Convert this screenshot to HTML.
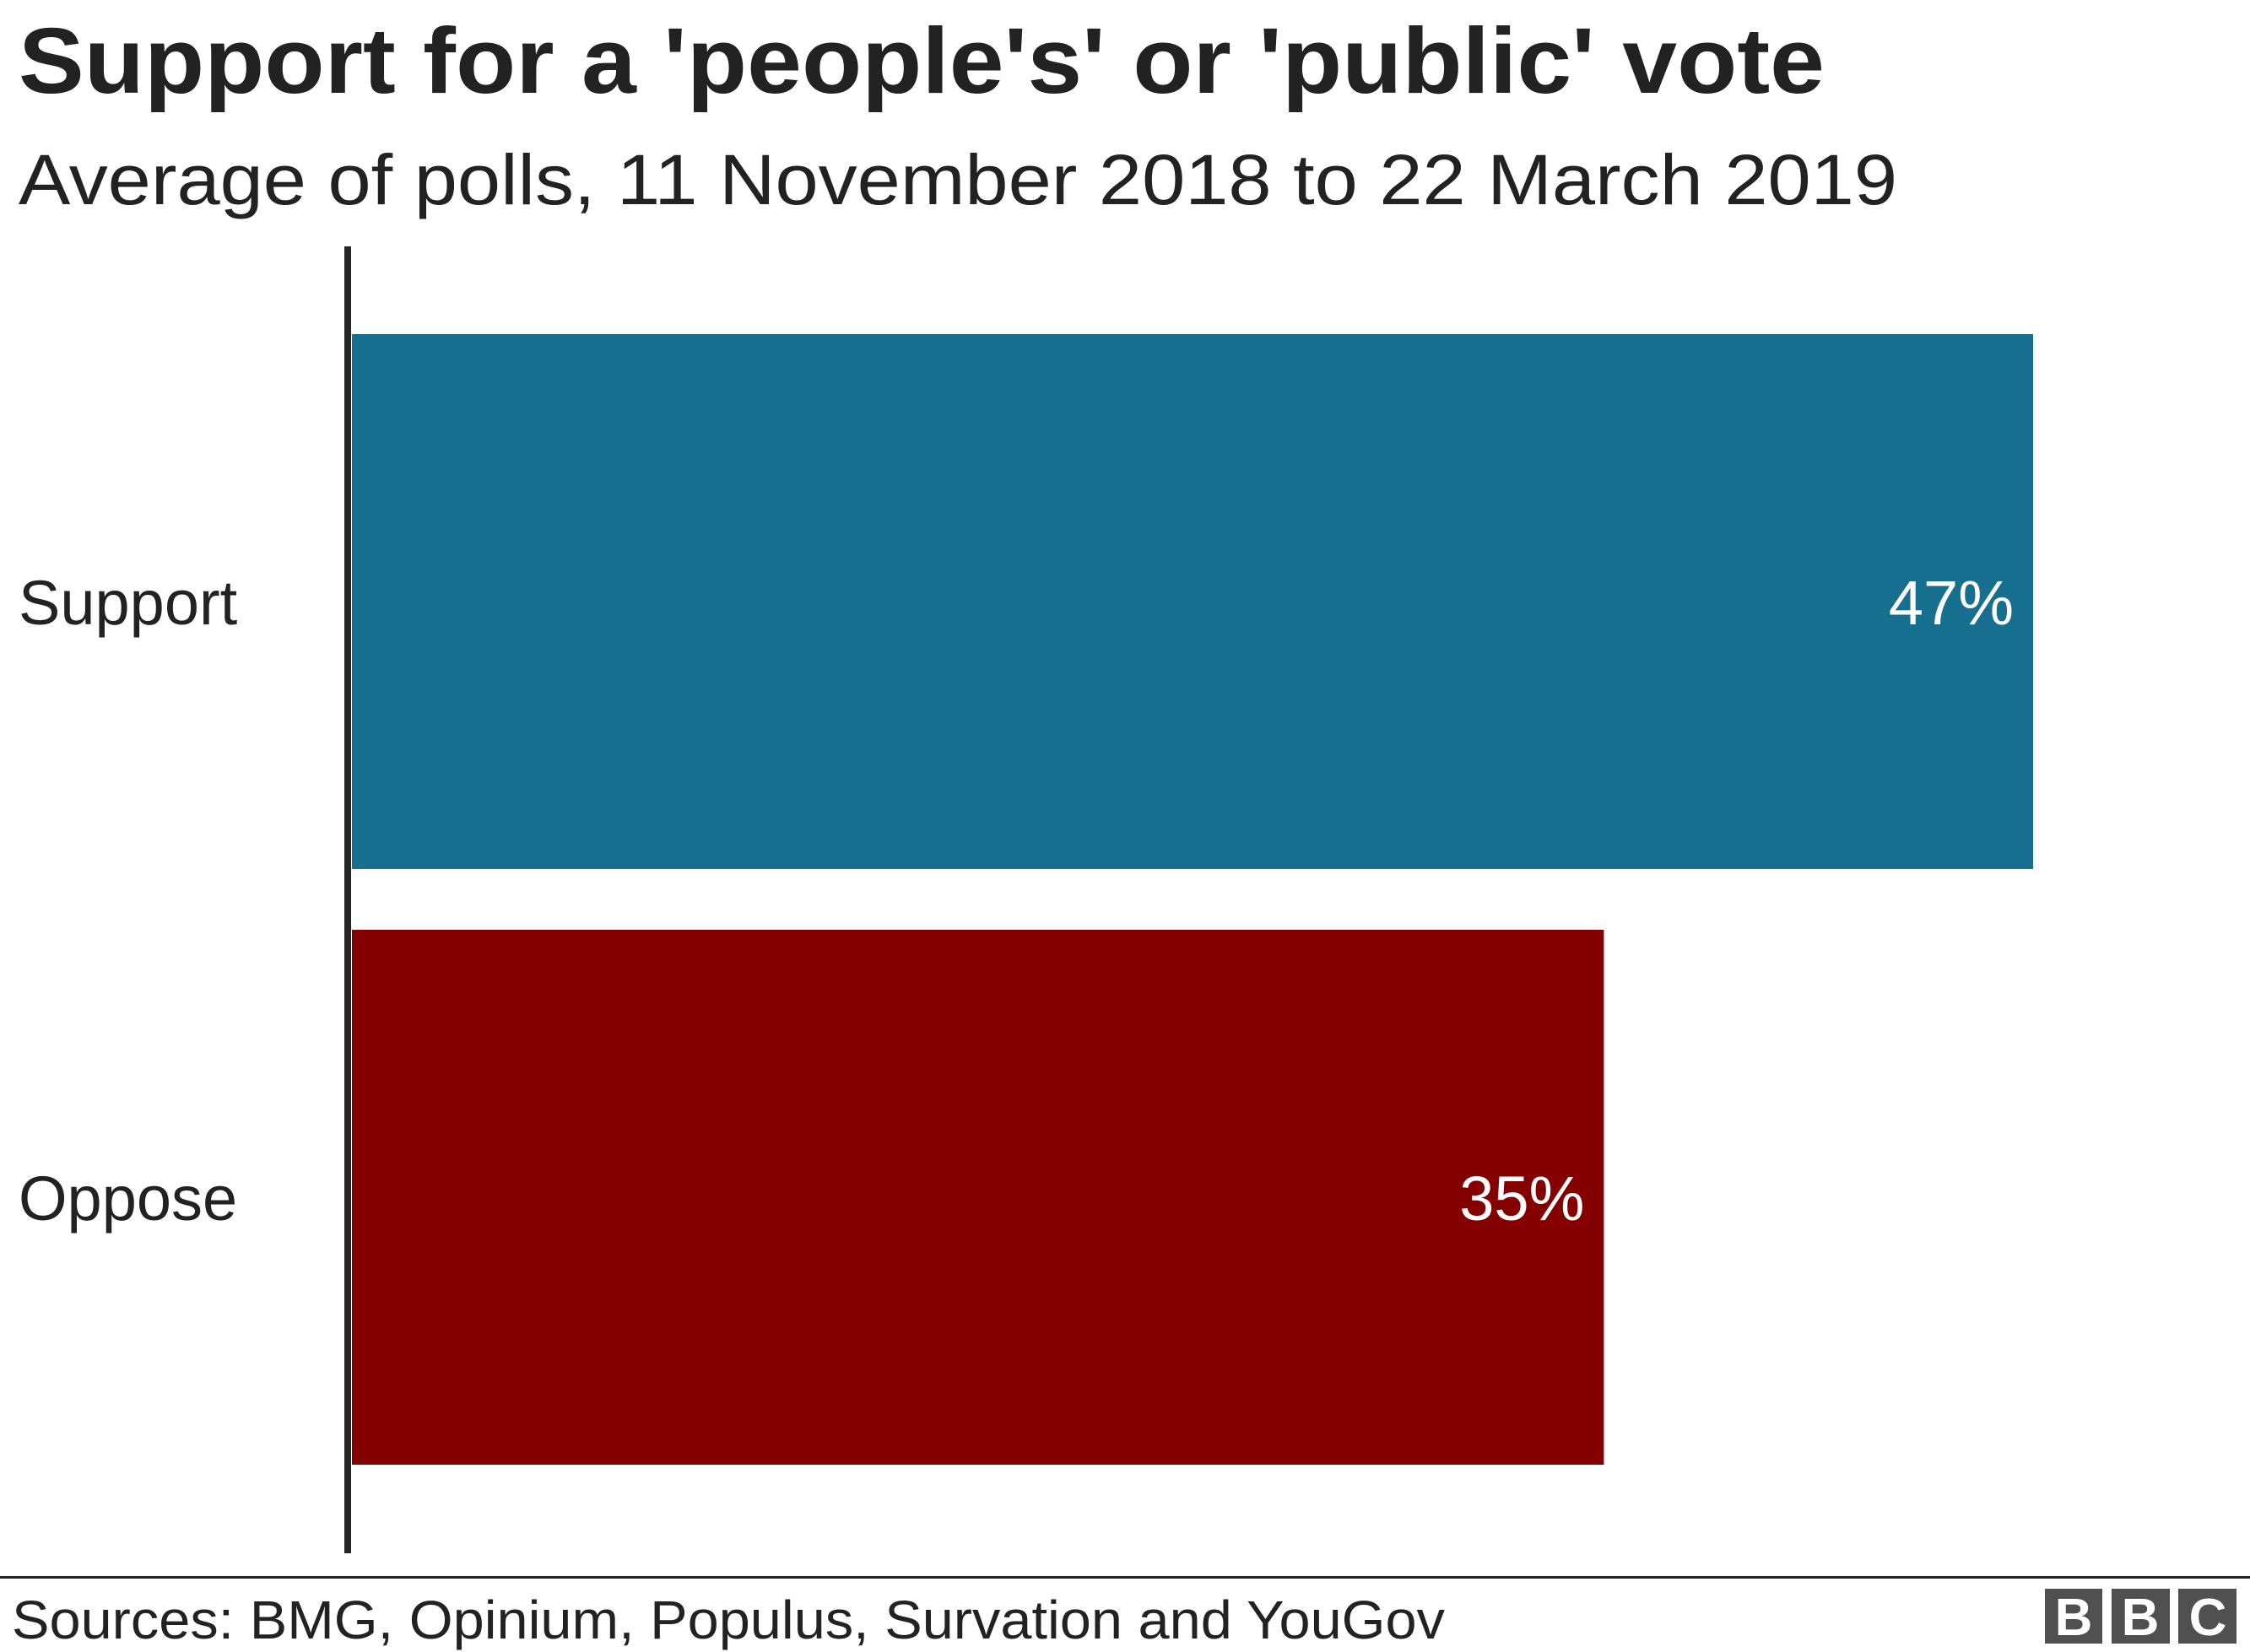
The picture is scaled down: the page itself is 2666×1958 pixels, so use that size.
<!DOCTYPE html>
<html><head><meta charset="utf-8"><style>
html,body{margin:0;padding:0;background:#fff;}
svg{display:block;font-family:"Liberation Sans",Arial,sans-serif;}
</style></head><body>
<svg width="2666" height="1958" viewBox="0 0 2666 1958" xmlns="http://www.w3.org/2000/svg">
<text x="22" y="110" font-size="110" font-weight="bold" fill="#222" textLength="2140" lengthAdjust="spacingAndGlyphs">Support for a 'people's' or 'public' vote</text>
<text x="22" y="242" font-size="84" fill="#222" textLength="2226" lengthAdjust="spacingAndGlyphs">Average of polls, 11 November 2018 to 22 March 2019</text>
<g id="bars"></g>
<rect x="408" y="292" width="8" height="1549" fill="#262626"/>
<rect x="0" y="1868" width="2666" height="3" fill="#222"/>
<text x="14" y="1942" font-size="64" fill="#222" textLength="1698" lengthAdjust="spacingAndGlyphs">Sources: BMG, Opinium, Populus, Survation and YouGov</text>
<g font-weight="bold" font-size="62" fill="#fff" text-anchor="middle">
<rect x="2423" y="1883" width="68" height="65" fill="#505050"/>
<rect x="2502" y="1883" width="69" height="65" fill="#505050"/>
<rect x="2581" y="1883" width="69" height="65" fill="#505050"/>
<text x="2457" y="1938">B</text><text x="2536" y="1938">B</text><text x="2616" y="1938">C</text>
</g>
</svg>
<script>
const categories = ["Support", "Oppose"];
const values = [47, 35];
const valueLabels = ["47%", "35%"];
const colors = ["#176f90", "#840000"];

const NS = "http://www.w3.org/2000/svg";
const x0 = 417, pxPerUnit = 1992 / 47;
function xScale(v){ return x0 + v * pxPerUnit; }
const bandTop = 396, bandStep = 706, barH = 634;
function yScale(i){ return bandTop + i * bandStep; }
const g = document.getElementById("bars");
categories.forEach((c, i) => {
  const y = yScale(i);
  const r = document.createElementNS(NS, "rect");
  r.setAttribute("x", x0);
  r.setAttribute("y", y);
  r.setAttribute("width", xScale(values[i]) - x0);
  r.setAttribute("height", barH);
  r.setAttribute("fill", colors[i]);
  
  
  g.appendChild(r);
  const lab = document.createElementNS(NS, "text");
  lab.setAttribute("x", 22);
  lab.setAttribute("y", y + barH / 2 + 27);
  lab.setAttribute("font-size", "74");
  lab.setAttribute("fill", "#222");
  lab.textContent = c;
  
  
  g.appendChild(lab);
  const vl = document.createElementNS(NS, "text");
  vl.setAttribute("x", xScale(values[i]) - 23);
  vl.setAttribute("y", y + barH / 2 + 27);
  vl.setAttribute("font-size", "74");
  vl.setAttribute("fill", "#fff");
  vl.setAttribute("text-anchor", "end");
  vl.textContent = valueLabels[i];
  
  
  g.appendChild(vl);
});
</script>
</body></html>
